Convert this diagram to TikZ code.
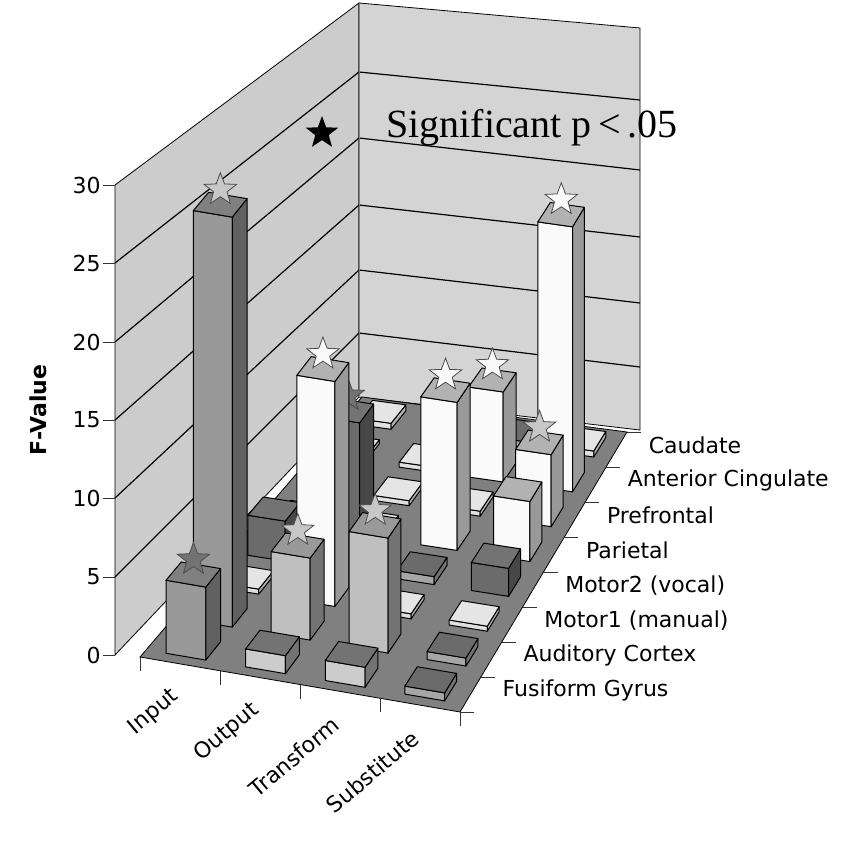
\documentclass[tikz,border=0pt]{standalone}
\usepackage{fontspec}
\setmainfont{DejaVu Sans}
\newfontfamily\serifont{Liberation Serif}
\usetikzlibrary{shapes.geometric}
\colorlet{Gf}{black!40}\colorlet{Gs}{black!62}\colorlet{Gt}{black!50}
\colorlet{Lf}{black!25}\colorlet{Ls}{black!55}\colorlet{Lt}{black!40}
\colorlet{Wf}{black!2}\colorlet{Ws}{black!40}\colorlet{Wt}{black!30}
\colorlet{Df}{black!58}\colorlet{Ds}{black!72}\colorlet{Dt}{black!55}
\colorlet{Ff}{black!12}\colorlet{Fs}{black!30}\colorlet{Ft}{black!10}
\colorlet{Kf}{black!35}\colorlet{Ks}{black!55}\colorlet{Kt}{black!58}
\colorlet{Bf}{black!20}\colorlet{Bs}{black!55}\colorlet{Bt}{black!55}
\colorlet{Sw}{black!2}\colorlet{Sl}{black!22}\colorlet{Sd}{black!55}
\newcommand\mkpt[4]{%
 \pgfmathsetmacro\fx{(1-#3)*(140+320*#2)+#3*(362+265*#2)}%
 \pgfmathsetmacro\fy{(1-#3)*(657+55*#2)+#3*(397+35*#2)-#4}%
 \coordinate (#1) at (\fx,\fy);}
\tikzset{
 wall/.style={draw=black,line width=0.8pt},
 grid/.style={draw=black,line width=1.2pt},
 barface/.style={draw=black,line width=1pt,line join=round},
 sigstar/.style={star,star points=5,star point ratio=2.4,minimum size=34pt,inner sep=0pt,draw=black!70,line width=0.8pt},
 lbl/.style={font=\fontsize{22}{24}\selectfont,inner sep=0pt},
 tick/.style={draw=black!80,line width=0.8pt}
}
\begin{document}
\begin{tikzpicture}[x=1pt,y=-1pt]
\useasboundingbox (0,0) rectangle (867,857);
% walls
\path[wall,fill=black!20] (115,185) coordinate (lw1) -- (359,3) coordinate (c1) -- (359,397) coordinate (c0) -- (115,655) coordinate (lw0) -- cycle;
\path[wall,fill=black!17] (c1) -- (640,28) coordinate (r1) -- (640,430) coordinate (r0) -- (c0) -- cycle;
\foreach \yl/\yc/\yr in {577/333/367,498/270/303,420/205/237,342/138/170,263/72/100}{
  \draw[grid] (115,\yl) -- (359,\yc) -- (640,\yr);}
\draw[draw=black!50] (c1) -- (c0);
% floor
\path[wall,fill=black!50] (140,657) coordinate (f00) -- (460,712) coordinate (f10) -- (627,432) coordinate (f11) -- (362,397) coordinate (f01) -- cycle;
% y axis ticks and labels
\foreach \v/\yy in {0/655,5/577,10/498,15/420,20/342,25/263,30/185}{
  \coordinate (yt\v) at (115,\yy);
  \draw[tick] (yt\v) -- ++(-12,0) node[lbl,anchor=east,xshift=-2pt] (yl\v) {\v};}
\node[lbl,font=\bfseries\fontsize{22}{24}\selectfont,rotate=90] (fv) at (38,410) {F-Value};
% column ticks and labels
\foreach \k in {0,...,4}{
  \mkpt{ct\k}{\k/4}{0}{0}
  \draw[tick] (ct\k) -- ++(0,14);}
\foreach \k/\t in {0/Input,1/Output,2/Transform,3/Substitute}{
  \mkpt{cl\k}{(\k+0.5)/4}{0}{0}
  \node[lbl,rotate=40,anchor=east] (cn\k) at ([xshift=-4pt,yshift=-30pt]cl\k) {\t};}
% row ticks and labels
\foreach \k in {0,...,8}{
  \mkpt{rt\k}{1}{\k/8}{0}
  \draw[tick] (rt\k) -- ++(14,0);}
\foreach \k/\t in {0/Fusiform Gyrus,1/Auditory Cortex,2/Motor1 (manual),3/Motor2 (vocal),4/Parietal,5/Prefrontal,6/Anterior Cingulate,7/Caudate}{
  \mkpt{rl\k}{1}{(\k+0.5)/8}{0}
  \node[lbl,anchor=west] (rn\k) at ([xshift=32pt,yshift=4pt]rl\k) {\t};}
% bars
\foreach \i/\j/\h/\ty/\sc in {
 0/7/6/F/n,1/7/5/F/n,2/7/6/K/n,3/7/6/F/n,
 0/6/4/F/n,1/6/5/F/n,2/6/90/W/w,3/6/265/W/w,
 0/5/4/F/n,1/5/5/F/n,2/5/5/F/n,3/5/72/W/l,
 0/4/4/F/n,1/4/5/F/n,2/4/148/W/w,3/4/60/W/n,
 0/3/40/D/n,1/3/150/D/d,2/3/8/K/n,3/3/28/D/n,
 0/2/5/F/n,1/2/225/W/w,2/2/5/F/n,3/2/5/F/n,
 0/1/410/G/l,1/1/82/L/l,2/1/115/L/l,3/1/8/K/n,
 0/0/73/G/d,1/0/18/B/n,2/0/20/B/n,3/0/8/K/n}{
 \pgfmathsetmacro\uc{(\i+0.5)/4}
 \pgfmathsetmacro\vc{(\j+0.5)/8}
 \pgfmathsetmacro\ua{\uc-0.0625}\pgfmathsetmacro\ub{\uc+0.0625}
 \pgfmathsetmacro\va{\vc-0.035}\pgfmathsetmacro\vb{\vc+0.035}
 \mkpt{a}{\ua}{\va}{0}\mkpt{b}{\ub}{\va}{0}\mkpt{c}{\ub}{\vb}{0}
 \mkpt{A}{\ua}{\va}{\h}\mkpt{B}{\ub}{\va}{\h}\mkpt{C}{\ub}{\vb}{\h}\mkpt{D}{\ua}{\vb}{\h}
 \mkpt{T}{\uc}{\vc}{\h}
 \path[barface,fill=\ty f] (a) -- (b) -- (B) -- (A) -- cycle;
 \path[barface,fill=\ty s] (b) -- (c) -- (C) -- (B) -- cycle;
 \path[barface,fill=\ty t] (A) -- (B) -- (C) -- (D) -- cycle;
 \if\sc n\else
  \node[sigstar,fill=S\sc] (s\i\j) at ([yshift=15pt]T) {};
 \fi
}
% legend
\node[star,star points=5,star point ratio=2.4,minimum size=34pt,inner sep=0pt,fill=black] (legstar) at (322,133) {};
\node[anchor=west,inner sep=0pt,font=\serifont\fontsize{40}{44}\selectfont] (legtxt) at (386,128) {Significant p\,<\,.05};
\end{tikzpicture}
\end{document}
